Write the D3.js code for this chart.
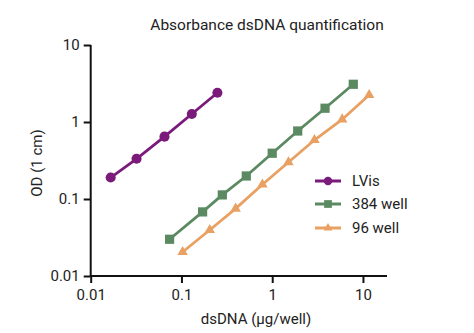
<!DOCTYPE html>
<html>
<head>
<meta charset="utf-8">
<script src="https://cdn.jsdelivr.net/npm/d3@7"></script>
<style>
    body { margin: 0; background: #fff; }
    text { font-family: Roboto, "DejaVu Sans", sans-serif; fill: #222; }
</style>
</head>
<body>
<div id="plotspace"></div>
<script>
// values
var lvisX = [0.0166, 0.032, 0.065, 0.13, 0.249];
var lvisY = [0.19, 0.333, 0.645, 1.27, 2.4];
var w384X = [0.074, 0.171, 0.282, 0.518, 1.0, 1.91, 3.82, 7.82];
var w384Y = [0.030, 0.068, 0.113, 0.199, 0.393, 0.764, 1.51, 3.09];
var w96X = [0.103, 0.205, 0.395, 0.78, 1.51, 2.92, 5.9, 11.7];
var w96Y = [0.0205, 0.0396, 0.075, 0.154, 0.30, 0.583, 1.08, 2.24];
var seriesNames = ["LVis", "384 well", "96 well"];
var xTicks = [0.01, 0.1, 1, 10];
var yTicks = [0.01, 0.1, 1, 10];

var Chart = (function() {

    var width = 474;
    var height = 333;
    var colors = ["#7a1b7b", "#5b8a62", "#e9a063"];
    var shapes = [d3.symbolCircle, d3.symbolSquare, d3.symbolTriangle];
    var sizes = [80, 85, 48];

    var zip = function(xs, ys) {
        var arr = [];
        for (var i = 0; i < xs.length; i++) {
            arr.push({x: xs[i], y: ys[i]});
        }
        return arr;
    };

    var fmt = function(d) { return d >= 1 ? d3.format("d")(d) : String(d); };

    var draw = function() {
        var x = d3.scaleLog().domain([0.01, 18.4]).range([90.7, 387]);
        var y = d3.scaleLog().domain([0.01, 10]).range([276, 45]);

        var svg = d3.select("#plotspace").
            append("svg").
            attr("width", width).
            attr("height", height);

        // title
        svg.append("text").
            attr("x", 267).
            attr("y", 30).
            attr("text-anchor", "middle").
            style("font-size", "15.5px").
            text("Absorbance dsDNA quantification");

        // axes
        var xAxis = d3.axisBottom(x).tickValues(xTicks).tickFormat(fmt).tickSize(7).tickPadding(6);
        var gx = svg.append("g").
            attr("transform", "translate(0,276)").
            call(xAxis);
        var yAxis = d3.axisLeft(y).tickValues(yTicks).tickFormat(fmt).tickSize(7).tickPadding(4);
        var gy = svg.append("g").
            attr("transform", "translate(90.7,0)").
            call(yAxis);
        [gx, gy].forEach(function(g) {
            g.selectAll("path.domain").attr("stroke", "#111").attr("stroke-width", 2);
            g.selectAll(".tick line").attr("stroke", "#111").attr("stroke-width", 2);
            g.selectAll(".tick text").style("font-size", "15px").attr("fill", "#222").
                style("font-family", "Roboto, 'DejaVu Sans', sans-serif");
        });
        // plain axis lines, no end caps
        gx.select("path.domain").attr("d", "M" + x.range()[0] + ",0H" + x.range()[1]);
        gy.select("path.domain").attr("d", "M0," + y.range()[0] + "V" + y.range()[1]);

        // axis titles
        svg.append("text").
            attr("x", 256).
            attr("y", 324).
            attr("text-anchor", "middle").
            style("font-size", "15px").
            text("dsDNA (µg/well)");
        svg.append("text").
            attr("transform", "translate(42,163) rotate(-90)").
            attr("text-anchor", "middle").
            style("font-size", "15px").
            text("OD (1 cm)");

        var series = [zip(lvisX, lvisY), zip(w384X, w384Y), zip(w96X, w96Y)];
        var line = d3.line().
            x(function(d) { return x(d.x); }).
            y(function(d) { return y(d.y); });

        series.forEach(function(data, idx) {
            svg.append("path").
                attr("d", line(data)).
                attr("fill", "none").
                attr("stroke", colors[idx]).
                attr("stroke-width", 2.8);
            svg.selectAll("path.pt" + idx).
                data(data).
                enter().append("path").
                attr("class", "pt" + idx).
                attr("transform", function(d) { return "translate(" + x(d.x) + "," + y(d.y) + ")"; }).
                attr("d", d3.symbol().type(shapes[idx]).size(sizes[idx])).
                attr("fill", colors[idx]);
        });

        // legend
        var legY = [181, 204, 228];
        seriesNames.forEach(function(name, idx) {
            var g = svg.append("g").attr("transform", "translate(0," + legY[idx] + ")");
            g.append("line").
                attr("x1", 315).attr("x2", 341).
                attr("stroke", colors[idx]).
                attr("stroke-width", 3);
            g.append("path").
                attr("transform", "translate(328,0)").
                attr("d", d3.symbol().type(shapes[idx]).size(sizes[idx] * 0.7)).
                attr("fill", colors[idx]);
            g.append("text").
                attr("x", 352).
                attr("y", 5).
                style("font-size", "15px").
                text(name);
        });
    };

    return { init: draw };
}());

Chart.init();
</script>
</body>
</html>
